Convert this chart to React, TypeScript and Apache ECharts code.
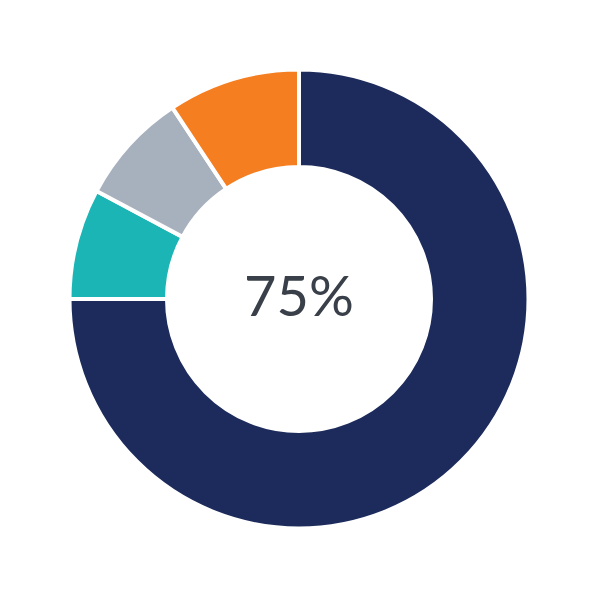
import React, { useEffect, useRef } from "react";
import * as echarts from "echarts";

const categories = ["A", "B", "C", "D"];
const values = [75, 7.8, 7.9, 9.3];
const colors = ["#1c2b5b", "#1bb5b5", "#a7b1be", "#f47e20"];
const centerLabel = "75%";

export default function App() {
  const ref = useRef<HTMLDivElement>(null);
  useEffect(() => {
    if (!ref.current) return;
    const chart = echarts.init(ref.current, null, { renderer: "svg" });
    chart.setOption({
      animation: false,
      graphic: [
        {
          type: "text",
          x: 291,
          y: 286,
          style: {
            text: centerLabel,
            fontFamily: "Lato",
            fontSize: 56,
            fill: "#3a4049",
            textAlign: "center",
            textVerticalAlign: "middle",
          },
        },
      ],
      series: [
        {
          type: "pie",
          center: [291, 291],
          radius: [132, 229.5],
          startAngle: 90,
          clockwise: true,
          label: { show: false },
          labelLine: { show: false },
          emphasis: { scale: false },
          itemStyle: { borderColor: "#ffffff", borderWidth: 4 },
          data: categories.map((c, i) => ({
            name: c,
            value: values[i],
            itemStyle: { color: colors[i] },
          })),
        },
      ],
    });
    return () => chart.dispose();
  }, []);
  return <div ref={ref} style={{ width: 584, height: 584 }} />;
}
